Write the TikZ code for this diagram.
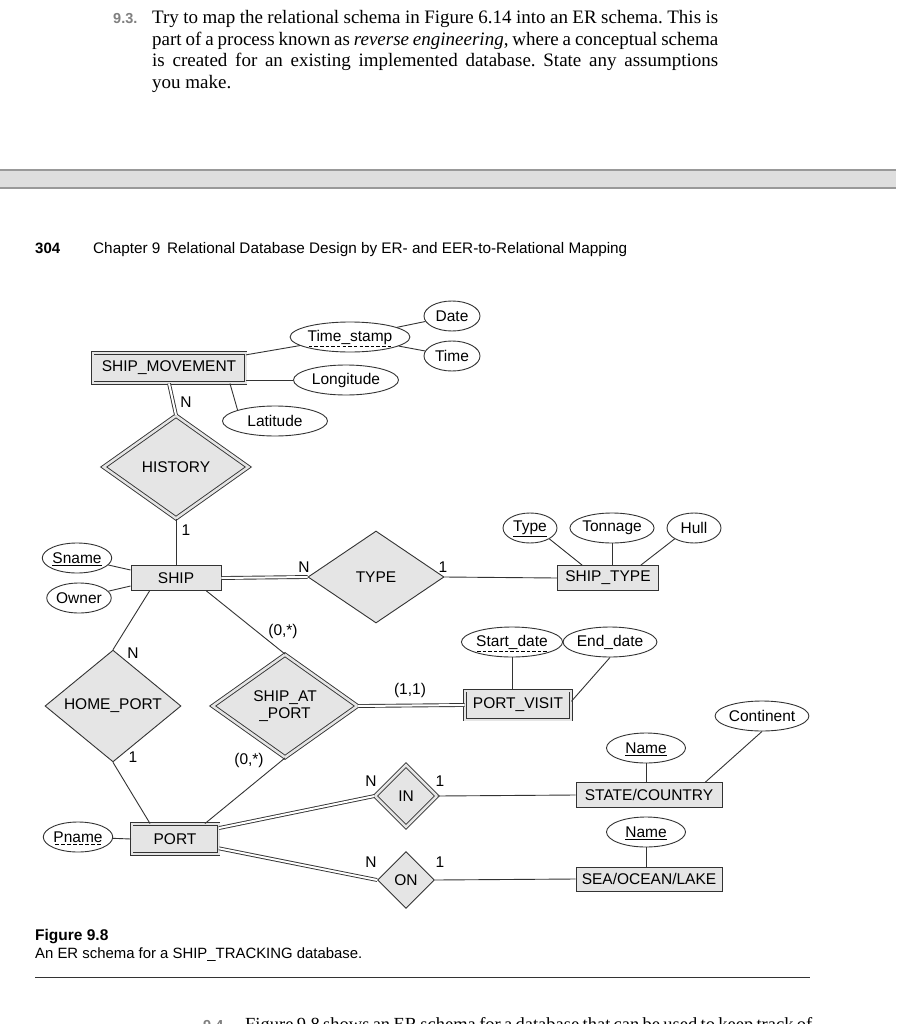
\documentclass[tikz,border=0pt]{standalone}
\usepackage{fontspec}
\usepackage{xcolor}
\usepackage{tikz}
\usetikzlibrary{positioning, calc, shapes.geometric}
\setmainfont{Liberation Serif}
\newfontfamily\diagfont{Liberation Sans}
\definecolor{isian}{gray}{0.9}
\definecolor{garis}{gray}{0.2}
\definecolor{pita}{gray}{0.87}
\newcommand{\gambar}{\diagfont\fontsize{15.5pt}{17pt}\selectfont}
\newcommand{\bukuteks}{\frenchspacing\fontsize{19pt}{21pt}\selectfont}
% garis bawah penuh dan putus-putus untuk atribut kunci
\newcommand{\kunci}[1]{\setbox0\hbox{#1}\copy0\llap{\smash{\raisebox{-\dimexpr\dp0+2pt\relax}%
  {\vrule height 0.6pt depth 0pt width \wd0}}}}
\newcommand{\kuncisebagian}[1]{\setbox0\hbox{#1}\copy0\llap{\smash{\raisebox{-\dimexpr\dp0+2pt\relax}%
  {\hbox to \wd0{\xleaders\hbox to 5.5pt{\hss\vrule height 0.6pt depth 0pt width 3.5pt\hss}\hfil}}}}}

\begin{document}
\begin{tikzpicture}[
    x=1pt, y=-1pt,
    font=\gambar,
    entitas/.style={draw=garis, fill=isian, line width=0.9pt, inner sep=0pt,
                    minimum height=25pt, font=\gambar},
    lemah/.style={entitas, double=isian, double distance=2pt, minimum height=30pt},
    relasi/.style={diamond, draw=garis, fill=isian, line width=0.9pt, inner sep=0pt,
                   align=center, font=\gambar},
    relasiid/.style={relasi, double=isian, double distance=2.5pt},
    atribut/.style={ellipse, draw=garis, fill=white, line width=0.9pt, inner sep=0pt,
                    minimum height=30pt, font=\gambar},
    garisan/.style={draw=garis, line width=0.9pt},
    ganda/.style={garisan, double=white, double distance=2pt},
    kard/.style={font=\gambar, inner sep=0pt},
    baris/.style={anchor=base west, inner sep=0pt}
  ]
    \clip (0,0) rectangle (896,1024);
    \useasboundingbox (0,0) rectangle (896,1024);
    \fill[white] (0,0) rectangle (896,1024);

    % soal latihan
    \node[baris, text=gray, font=\diagfont\bfseries\fontsize{14.5pt}{15pt}\selectfont]
      (nomor) at (113,24) {9.3.};
    \node[baris, font=\bukuteks] (soal1) at (152,24)
      {\makebox[566pt][s]{Try to map the relational schema in Figure 6.14 into an ER schema. This is}};
    \node[baris, font=\bukuteks] (soal2) at (152,45.5)
      {\makebox[566pt][s]{part of a process known as \textit{reverse engineering}, where a conceptual schema}};
    \node[baris, font=\bukuteks] (soal3) at (152,67)
      {\makebox[566pt][s]{is created for an existing implemented database. State any assumptions}};
    \node[baris, font=\bukuteks] (soal4) at (152,88.5) {you make.};

    % pita abu-abu
    \fill[pita] (0,170) rectangle (896,188);
    \draw[gray!80, line width=1.2pt] (0,170) -- (896,170);
    \draw[gray!80, line width=1.2pt] (0,188) -- (896,188);

    % judul halaman
    \node[baris, font=\diagfont\bfseries\fontsize{15pt}{16pt}\selectfont]
      (halaman) at (35,253) {304};
    \node[baris, font=\diagfont\fontsize{15.3pt}{16pt}\selectfont]
      (bab) at (93,253) {Chapter 9\, Relational Database Design by ER- and EER-to-Relational Mapping};

    % entitas dan relasi
    \node[lemah, minimum width=153pt] (smove) at (169,368) {SHIP\_MOVEMENT};
    \node[atribut, minimum width=115pt] (tstamp) at (350,337) {\kuncisebagian{Time\_stamp}};
    \node[atribut, minimum width=56pt] (tgl) at (452,316) {Date};
    \node[atribut, minimum width=56pt] (jam) at (452,356) {Time};
    \node[atribut, minimum width=105pt] (bujur) at (346,380) {Longitude};
    \node[atribut, minimum width=105pt] (lintang) at (275,421) {Latitude};

    \node[relasiid, minimum width=145pt, minimum height=103pt] (history) at (176,467) {HISTORY};

    \node[entitas, minimum width=90pt] (ship) at (176,578) {SHIP};
    \node[atribut, minimum width=64pt] (sname) at (77,558) {\kunci{Sname}};
    \node[atribut, minimum width=60pt] (owner) at (79,598) {Owner};

    \node[relasi, minimum width=136pt, minimum height=92pt] (tipe) at (376,577) {TYPE};
    \node[entitas, minimum width=101pt] (stype) at (608,578) {SHIP\_TYPE};
    \node[atribut, minimum width=54pt] (jenis) at (530,528) {\kunci{Type}};
    \node[atribut, minimum width=80pt] (tonase) at (612,528) {Tonnage};
    \node[atribut, minimum width=54pt] (lambung) at (694,528) {Hull};

    \node[relasi, minimum width=136pt, minimum height=95pt] (hport) at (113,706) {HOME\_PORT};
    \node[relasiid, minimum width=145pt, minimum height=103pt] (sap) at (285,706)
      {SHIP\_AT\\\_PORT};
    \node[lemah, minimum width=106pt, minimum height=29pt] (pvisit) at (518,705) {PORT\_VISIT};
    \node[atribut, minimum width=101pt] (mulai) at (512,642) {\kuncisebagian{Start\_date}};
    \node[atribut, minimum width=78pt] (akhir) at (610,642) {End\_date};

    \node[lemah, minimum width=87pt] (port) at (175,839) {PORT};
    \node[atribut, minimum width=63pt] (pname) at (78,837) {\kuncisebagian{Pname}};

    \node[relasiid, minimum width=62pt, minimum height=62pt] (di) at (406,796) {IN};
    \node[relasi, minimum width=57pt, minimum height=57pt] (pada) at (406,880) {ON};

    \node[entitas, minimum width=146pt] (negara) at (649,795) {STATE/COUNTRY};
    \node[atribut, minimum width=79pt] (nama1) at (646,748) {\kunci{Name}};
    \node[atribut, minimum width=79pt] (benua) at (762,716) {Continent};
    \node[entitas, minimum width=146pt, minimum height=24pt] (laut) at (649,879) {SEA/OCEAN/LAKE};
    \node[atribut, minimum width=79pt] (nama2) at (646,832) {\kunci{Name}};

    % garis atribut
    \draw[garisan] (smove) -- (tstamp);
    \draw[garisan] (tstamp) -- (tgl);
    \draw[garisan] (tstamp) -- (jam);
    \draw[garisan] (bujur.west -| smove.east) -- (bujur.west);
    \draw[garisan] ($(smove.south east)+(-16,0)$) -- (lintang.north west);
    \draw[garisan] (sname) -- (ship.170);
    \draw[garisan] (owner) -- (ship.190);
    \draw[garisan] (jenis.south east) -- ($(stype.north west)+(25,0)$);
    \draw[garisan] (tonase.south) -- (tonase.south |- stype.north);
    \draw[garisan] (lambung.south west) -- ($(stype.north east)+(-18,0)$);
    \draw[garisan] (mulai.south) -- (mulai.south |- pvisit.north);
    \draw[garisan] (akhir.south) -- (pvisit.4);
    \draw[garisan] (pname) -- (port.west);
    \draw[garisan] (nama1.south) -- (nama1.south |- negara.north);
    \draw[garisan] (benua.south) -- ($(negara.north east)+(-17,0)$);
    \draw[garisan] (nama2.south) -- (nama2.south |- laut.north);

    % garis relasi
    \draw[ganda] (smove.south) -- (history.north);
    \draw[garisan] (history.south) -- (ship.north);
    \draw[ganda] (ship.east) -- (tipe.west);
    \draw[garisan] (tipe.east) -- (stype.west);
    \draw[garisan] ($(ship.south west)+(19,0)$) -- (hport.north);
    \draw[garisan] (hport.south) -- ($(port.north west)+(19,0)$);
    \draw[garisan] ($(ship.south east)+(-15,0)$) -- (sap.north);
    \draw[garisan] (sap.south) -- ($(port.north east)+(-14,0)$);
    \draw[ganda] (sap.east) -- (pvisit.west);
    \draw[ganda] (port.14) -- (di.west);
    \draw[ganda] (port.-12) -- (pada.west);
    \draw[garisan] (di.east) -- (negara.west);
    \draw[garisan] (pada.east) -- (laut.west);

    % kardinalitas
    \node[kard] (k1) at (186,402) {N};
    \node[kard] (k2) at (186,530) {1};
    \node[kard] (k3) at (304,567) {N};
    \node[kard] (k4) at (443,567) {1};
    \node[kard] (k5) at (133,653) {N};
    \node[kard] (k6) at (133,757) {1};
    \node[kard] (k7) at (283,631) {(0,*)};
    \node[kard] (k8) at (249,760) {(0,*)};
    \node[kard] (k9) at (410,690) {(1,1)};
    \node[kard] (k10) at (371,781) {N};
    \node[kard] (k11) at (440,781) {1};
    \node[kard] (k12) at (371,862) {N};
    \node[kard] (k13) at (440,862) {1};

    % keterangan gambar
    \node[baris, font=\diagfont\bfseries\fontsize{15.5pt}{16pt}\selectfont]
      (figjudul) at (35,940) {Figure 9.8};
    \node[baris, font=\diagfont\fontsize{14.9pt}{16pt}\selectfont]
      (figket) at (35,958) {An ER schema for a SHIP\_TRACKING database.};
    \draw[garis, line width=1pt] (35,977) -- (810,977);

    % soal berikutnya, terpotong
    \node[baris, text=gray, font=\diagfont\bfseries\fontsize{14.5pt}{15pt}\selectfont]
      (nomor2) at (203,1030) {9.4.};
    \node[baris, font=\frenchspacing\fontsize{18.5pt}{21pt}\selectfont] (soal5) at (245,1030)
      {\makebox[567pt][s]{Figure 9.8 shows an ER schema for a database that can be used to keep track of}};
  \end{tikzpicture}
\end{document}
